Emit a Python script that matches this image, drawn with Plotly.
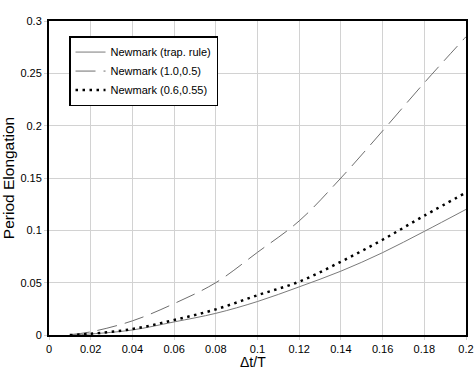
import plotly.graph_objects as go

# Data
dt_T = [0.01, 0.02, 0.04, 0.06, 0.08, 0.10, 0.12, 0.14, 0.16, 0.18, 0.20]
trap_rule = [0.0, 0.001, 0.0048, 0.0125, 0.0207, 0.032, 0.046, 0.061, 0.0787, 0.099, 0.12]
newmark_10_05 = [0.0003, 0.003, 0.0135, 0.03, 0.05, 0.079, 0.109, 0.15, 0.195, 0.241, 0.285]
newmark_06_055 = [0.0, 0.0012, 0.0057, 0.0143, 0.0245, 0.038, 0.051, 0.070, 0.091, 0.114, 0.136]

x_ticks = [0, 0.02, 0.04, 0.06, 0.08, 0.1, 0.12, 0.14, 0.16, 0.18, 0.2]
x_tick_labels = ["0", "0.02", "0.04", "0.06", "0.08", "0.1", "0.12", "0.14", "0.16", "0.18", "0.2"]
y_ticks = [0, 0.05, 0.1, 0.15, 0.2, 0.25, 0.3]
y_tick_labels = ["0", "0.05", "0.1", "0.15", "0.2", "0.25", "0.3"]
x_title = "Δt/T"
y_title = "Period Elongation"

fig = go.Figure()
fig.add_trace(go.Scatter(x=dt_T, y=trap_rule, mode="lines", name="Newmark (trap. rule)",
                         line=dict(color="#7a7a7a", width=1, shape="spline")))
fig.add_trace(go.Scatter(x=dt_T, y=newmark_10_05, mode="lines", name="Newmark (1.0,0.5)",
                         line=dict(color="#6e6e6e", width=1, dash="20px,8px", shape="spline")))
fig.add_trace(go.Scatter(x=dt_T, y=newmark_06_055, mode="lines", name="Newmark (0.6,0.55)",
                         line=dict(color="black", width=2.5, dash="2.5px,4.5px", shape="spline")))

font = "Liberation Sans, Arial, sans-serif"
fig.update_layout(
    width=474, height=369,
    margin=dict(l=49, r=8, t=21, b=34, autoexpand=False),
    paper_bgcolor="white", plot_bgcolor="white",
    font=dict(family=font, size=11, color="black"),
    showlegend=True,
    legend=dict(x=0.048, y=0.952, xanchor="left", yanchor="top",
                bgcolor="white", bordercolor="black", borderwidth=1.5,
                font=dict(size=11, family=font), tracegroupgap=0,
                itemwidth=30),
    xaxis=dict(range=[0, 0.2], tickvals=x_ticks, ticktext=x_tick_labels,
               showgrid=True, gridcolor="#d2d2d2", gridwidth=1.2,
               showline=True, linecolor="black", linewidth=2, mirror=True,
               ticks="outside", ticklen=3, tickcolor="#d2d2d2",
               zeroline=False, automargin=False),
    yaxis=dict(range=[0, 0.3], tickvals=y_ticks, ticktext=y_tick_labels,
               showgrid=True, gridcolor="#d2d2d2", gridwidth=1.2,
               showline=True, linecolor="black", linewidth=2, mirror=True,
               ticks="outside", ticklen=3, tickcolor="#d2d2d2",
               zeroline=False, automargin=False),
    annotations=[
        dict(text=x_title, xref="paper", yref="paper", x=0.49, y=-0.086,
             xanchor="center", yanchor="middle", showarrow=False,
             font=dict(size=14, family=font)),
        dict(text=y_title, xref="paper", yref="paper", x=-0.098, y=0.5,
             xanchor="center", yanchor="middle", showarrow=False, textangle=-90,
             font=dict(size=15.5, family=font)),
    ],
)

fig.write_html("out.html",
               config={"displayModeBar": False},
               post_script="document.body.style.margin='0';document.body.style.overflow='hidden';")
